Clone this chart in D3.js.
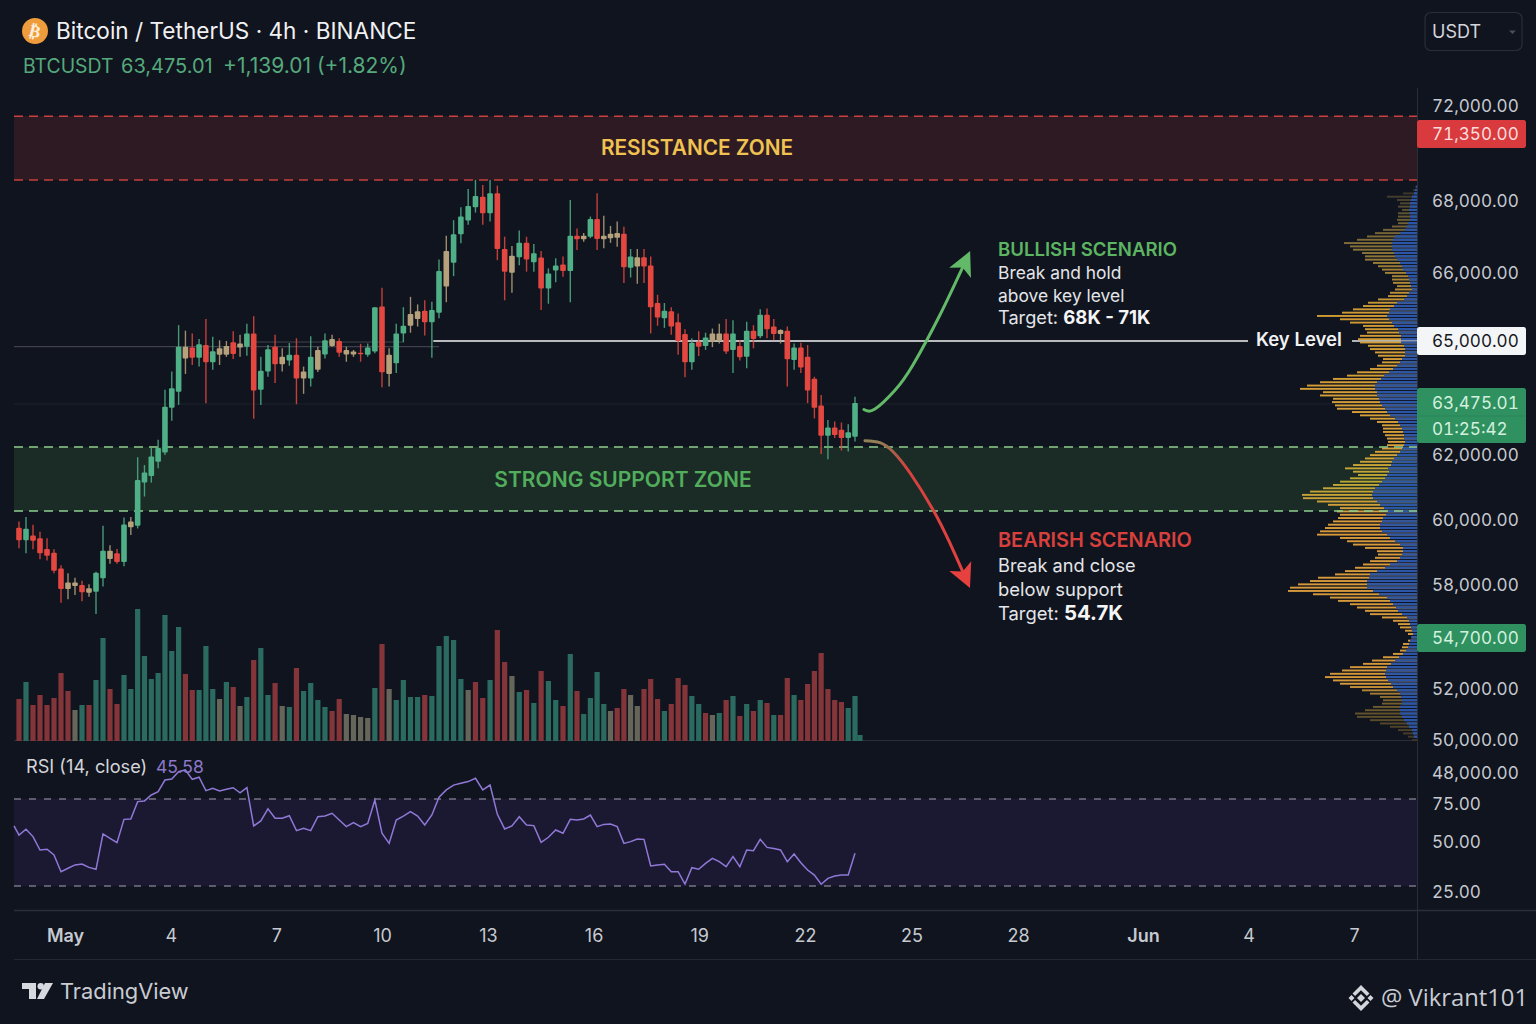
<!DOCTYPE html>
<html>
<head>
<meta charset="utf-8">
<script src="https://cdn.jsdelivr.net/npm/d3@7/dist/d3.min.js"></script>
<style>
  html, body { margin: 0; background: #10141e; }
  svg { display: block; font-family: Inter, "Noto Sans", sans-serif; }
  .axis path, .axis line { display: none; }
  .axis text { fill: #c6c9d0; font-family: Inter, sans-serif; }
  .num { font-variant-numeric: tabular-nums; }
</style>
</head>
<body>
<div id="chart"></div>
<script>
// ------- Candles (4h bars) -------
const candleOpen = [
  59730,59350,59490,59410,59080,58960,58480,58050,58050,57940,57740,57530,58180,59020,58950,58680,59750,59790,61120,61320,
  61760,62040,63340,63750,64570,64840,64590,64900,64480,64660,64660,64970,64840,64860,65110,63800,64250,64860,64430,64520,
  64660,64080,64080,64290,64670,64880,65000,64780,64740,64710,64660,64740,65500,64190,64450,65110,65220,65320,65440,65270,
  65410,65790,66260,67050,67430,67800,68170,67630,68340,66640,66450,66410,66810,66270,66400,65760,66040,66210,66030,67010,
  66910,66980,67470,66910,66940,67080,67060,66120,66410,66410,66180,65550,65330,65430,65270,65100,64480,64980,64880,65110,
  65110,65110,64780,64880,64610,65150,65070,65380,65210,65160,65150,64530,64840,64610,64070,63400,62530,62770,62700,62460,
  62500];
const candleHigh = [
  59920,60060,59820,59610,59410,59070,58580,58330,58190,58100,57980,58380,59790,59190,59080,60050,60060,61900,61660,62190,
  62410,63800,64250,65230,65150,65110,65030,65320,65060,65010,65000,65140,65090,65250,65360,64610,64900,65090,64820,64950,
  65040,64370,65070,64860,65110,65090,65040,64860,64780,64930,64940,65490,65770,64820,65250,65490,65640,65530,65590,65570,
  66350,67010,67440,67800,68560,69020,68760,69020,68730,66980,66720,67150,66980,66780,66580,66100,66380,66430,68000,67210,
  67080,67540,68340,67560,67280,67400,67260,66640,66640,66640,66430,65670,65550,65490,65400,65170,65040,65140,65120,65180,
  65250,65320,65300,65010,65280,65230,65460,65470,65320,65170,65210,64940,64960,64900,64120,63670,62980,62940,62910,62860,
  63630];
const candleLow = [
  59100,58950,59070,58760,58720,58330,56860,57070,57330,56940,57220,56170,57840,58620,58620,58550,59510,59710,60690,61120,
  61560,61970,62960,63420,64190,64410,64370,63470,64290,64410,64610,64560,64610,64640,63020,63420,64120,63970,64250,64390,
  63440,63700,63880,64240,64570,64860,64610,64490,64610,64490,64610,64700,63860,63880,64210,64970,65120,65210,65080,64590,
  65330,65560,65940,66800,67310,67650,67310,67400,66330,65590,65700,66190,66010,66010,65450,65540,65850,65930,65560,66610,
  66840,66940,66610,66660,66810,66700,65840,65920,65830,65840,65110,65220,65190,65090,64660,64110,64290,64630,64780,64850,
  64940,64680,64210,64520,64330,64820,65040,65040,65010,64940,63880,64290,64210,63470,63030,62000,61840,62460,62100,62070,
  62360];
const candleClose = [
  59350,59700,59330,58950,58870,58410,57700,57700,57880,57490,57470,58350,59020,58770,58680,59830,59920,61200,61430,61920,
  62170,63370,63840,64860,64860,64590,64920,64480,64750,64820,64880,64680,64940,65110,63780,64270,64800,64430,64610,64660,
  64080,64250,64610,64780,65010,65030,64710,64670,64670,64680,64840,65490,64230,64660,65110,65220,65390,65430,65270,65450,
  66030,66580,67050,67540,67830,68200,67630,68340,66640,66010,65990,66810,66350,66520,65760,65980,66180,66030,67010,66910,
  67010,67470,66920,67010,67060,66950,66130,66430,66150,66150,65490,65340,65440,65210,65000,64480,64960,64860,65050,64980,
  65000,64740,65110,64600,65150,65030,65380,65170,65100,65100,64550,64840,64350,63780,63340,62530,62770,62550,62460,62630,
  63475];
// bars that read as washed-out tan in the picture
const mutedCandles = [7,8,10,13,16,24,29,30,32,38,41,43,45,47,48,53,56,57,61,70,80,83,84,85,88,99,100,109];

// ------- Volume -------
const volumeValues = [
  4.2,5.9,3.6,4.6,3.6,4.3,6.8,5.0,3.1,3.6,3.6,6.1,10.3,5.2,3.7,6.6,5.2,13.2,8.5,6.2,
  6.8,12.6,9.0,11.4,6.7,5.1,5.1,9.5,5.2,4.2,5.9,5.4,3.5,4.4,8.1,9.3,4.6,5.8,3.5,3.4,
  7.3,5.0,5.8,4.1,3.4,3.0,4.2,2.7,2.6,2.4,2.3,5.3,9.7,5.2,4.1,6.1,4.4,4.4,4.6,4.5,
  9.5,10.5,10.1,6.2,5.1,5.9,4.3,6.1,11.1,7.9,6.5,4.9,5.1,3.8,7.0,6.0,4.1,3.5,8.7,5.0,
  2.7,4.3,6.9,3.7,3.0,3.3,5.2,4.6,3.5,5.2,6.2,4.2,3.0,3.7,6.3,5.6,4.5,3.7,2.8,2.6,
  2.8,4.1,4.5,2.5,3.7,3.0,4.1,3.8,2.6,2.6,6.3,4.6,4.1,5.7,7.0,8.8,5.2,4.1,3.9,3.3,
  4.5,0.6];
const volumeSides = ("rgrrrrrrtg" + "rggrrggggg" + "ggggrrgggt" + "grtgrggrtg" + "rggggrrttt" +
  "tgrtggggrg" + "ggggtrrgrr" + "tgrgrggrgr" + "ggggtrrttr" + "rrgrrrggrt" +
  "grgrgrgrgr" + "rgrrrrrrrg" + "gg").split("");

// ------- RSI (first value sits one bar before the first candle) -------
const rsiValues = [
  59.5,54.3,57.6,53.4,45.7,46.1,42.8,33.2,35.2,37.1,37.6,35.7,34.6,54.9,52.4,49.9,63.3,63.5,73.5,73.9,
  77.3,79.2,85.9,86.5,90.7,91.7,86.3,87.5,79.8,81.1,79.6,80.6,81.5,78.6,81.5,59.5,62.4,69.3,63.9,63.9,
  65.4,56.8,58.1,56.8,64.8,65.2,66.8,62.9,59.1,61.4,59.1,61.0,74.4,55.3,49.5,62.9,65.2,67.7,65.2,
  60.1,65.8,76.0,80.2,83.0,84.0,85.0,86.9,80.2,83.0,66.2,57.8,59.5,64.8,60.1,59.7,50.1,53.0,57.2,55.3,
  63.3,62.9,63.5,65.8,59.1,60.4,60.6,59.1,49.5,50.5,52.0,51.8,36.5,37.1,37.5,33.2,33.2,26.1,35.5,34.6,
  38.0,40.9,39.0,36.1,41.9,36.1,45.7,45.3,51.8,47.2,46.6,45.7,39.0,43.4,38.4,34.2,31.3,26.0,29.4,30.7,
  31.3,31.3,43.8];

// ------- Volume profile on the right edge (one row per level, top to bottom) -------
const profileTotal = [
  2,4,14,30,20,17,19,15,19,19,20,19,25,34,42,50,60,73,67,64,55,52,52,44,39,35,32,25,25,24,20,22,27,29,39,49,54,64,75,100,
  77,67,54,52,50,57,59,57,49,47,42,39,34,35,40,47,60,70,84,97,110,117,94,97,84,85,82,80,65,57,47,40,35,34,
  34,32,30,29,30,35,42,47,52,57,64,72,64,59,67,77,84,94,107,115,114,100,89,77,80,77,79,84,89,92,97,100,77,70,64,52,40,39,42,47,54,
  62,72,82,99,107,119,127,129,104,87,79,67,60,52,47,35,24,19,17,12,9,5,9,14,15,17,24,34,45,54,67,75,87,92,84,77,67,55,47,37,34,35,44,52,62,60,47,37,27,19,14,9,5];
const profileBase = [
  1,2,3,5,6,7,7,8,7,7,7,9,10,12,17,22,24,25,25,25,23,22,20,17,15,14,11,9,8,7,6,5,8,10,13,20,23,27,28,30,
  28,25,23,19,18,16,16,16,13,12,12,12,15,17,20,24,28,33,36,40,42,42,40,40,38,37,35,32,30,27,22,19,17,15,
  14,13,13,12,13,15,17,20,23,25,26,29,28,30,32,35,38,42,44,45,44,40,37,33,30,31,34,35,37,37,35,30,27,22,17,14,14,15,17,20,27,
  32,40,47,48,50,50,50,44,38,30,27,24,21,19,15,10,8,7,6,5,4,6,7,8,9,11,14,18,22,26,30,31,32,31,29,26,24,20,17,16,15,15,17,17,17,15,13,10,8,5,4,3];

// ------- Axis labels and levels -------
const priceTicks = [72000, 68000, 66000, 62000, 60000, 58000, 52000, 50000, 48000];
const rsiTicks = [75, 50, 25];
const dayTicks = [1, 4, 7, 10, 13, 16, 19, 22, 25, 28, 32, 35, 38];
const dayLabels = ["May", "4", "7", "10", "13", "16", "19", "22", "25", "28", "Jun", "4", "7"];
const boldDays = ["May", "Jun"];

const resistanceZone = [69015, 71750];
const supportZone = [60246, 62200];
const keyLevel = 65000;
const lastPrice = 63475.01;
const targetLow = 54700;
const targetHigh = 71350;

// arrow paths as [day, price]
const bullishPath = [[23.66,63287],[23.97,63302],[24.54,63795],[25.04,64410],[25.80,65377],[26.51,66278]];
const bearishPath = [[23.69,62385],[24.11,62327],[24.48,62066],[24.96,61415],[25.61,60277],[26.08,59262],[26.51,58215]];

// ------- Colors -------
const upColor = "#4fb087";
const downColor = "#e4473f";
const mutedColor = "#b5a27c";
const volumeColor = { g: "#2b6a5f", r: "#843539", t: "#66655a" };

// ------- SVG setup -------
const W = 1536, H = 1024;
const plotLeft = 14, plotRight = 1417, tagRight = 1526;
const axisFont = 17.1;

const svg = d3.select("#chart").append("svg").attr("width", W).attr("height", H);
svg.append("rect").attr("width", W).attr("height", H).attr("fill", "#10141e");

const defs = svg.append("defs");

const amberFade = defs.append("linearGradient").attr("id", "amberFade")
  .attr("gradientUnits", "userSpaceOnUse").attr("x1", 0).attr("x2", 0).attr("y1", 186).attr("y2", 740);
[[0, "#2e2d28"], [0.06, "#6b5d35"], [0.12, "#8a7438"], [0.22, "#cf9a34"], [0.48, "#d8a038"], [0.53, "#b9a836"],
 [0.59, "#d89a3a"], [0.9, "#d4983a"], [0.93, "#75602f"], [1, "#3d3525"]].forEach(([o, c]) =>
  amberFade.append("stop").attr("offset", o).attr("stop-color", c));

const bearFade = defs.append("linearGradient").attr("id", "bearFade")
  .attr("x1", 0).attr("x2", 0).attr("y1", 0).attr("y2", 1);
[[0, "#8f8256"], [0.08, "#a8604a"], [0.2, "#d8423e"], [1, "#e2413f"]].forEach(([o, c]) =>
  bearFade.append("stop").attr("offset", o).attr("stop-color", c));

function arrowMarker(id, color) {
  defs.append("marker").attr("id", id).attr("markerUnits", "userSpaceOnUse")
    .attr("viewBox", "-2 -15 34 30").attr("markerWidth", 34).attr("markerHeight", 30)
    .attr("refX", 12).attr("refY", 0).attr("orient", "auto")
    .append("path").attr("d", "M0,-12L24,0L0,12L6,0Z").attr("fill", color);
}
arrowMarker("headUp", "#62b968");
arrowMarker("headDown", "#e6403f");

// ------- Scales -------
// the printed price axis is not evenly spaced, so the scale follows the printed levels
const priceY = d3.scaleLinear()
  .domain([72000, 71350, 68000, 66000, 65000, 63475, 62000, 60000, 58000, 54700, 52000, 50000, 48000])
  .range([105, 134, 200, 272, 341, 403, 454, 519, 584, 638, 688, 739, 772]);

const barX = d3.scaleLinear()
  .domain([-1, 0, 15, 34, 60, 78, 90, 104, 120, 121])
  .range([14, 19, 124, 253.7, 439, 570.3, 650.7, 746.7, 855, 860]);

const dayX = d3.scaleLinear().domain([1, 22, 28, 32, 38]).range([65, 805, 1018, 1143, 1354]);

const volumeY = d3.scaleLinear().domain([0, 14]).range([741, 601]);

const rsiY = d3.scaleLinear().domain([75, 25]).range([799, 886]);
const rsiLabelY = d3.scaleLinear().domain([75, 50, 25]).range([803, 841, 891]);

const profileY = d3.scaleLinear().domain([0, profileTotal.length - 1]).range([186.7, 740]);
const profileX = d3.scaleLinear().domain([0, 140]).range([plotRight, plotRight - 140]);

// ------- Zones, panes -------
const panes = svg.append("g");

function zone(range, fill) {
  panes.append("rect")
    .attr("x", plotLeft).attr("width", plotRight - plotLeft)
    .attr("y", priceY(range[1])).attr("height", priceY(range[0]) - priceY(range[1]))
    .attr("fill", fill);
}
zone(resistanceZone, "#2e1a22");
zone(supportZone, "#1a2c25");

panes.append("rect")
  .attr("x", plotLeft).attr("width", plotRight - plotLeft)
  .attr("y", rsiY(75)).attr("height", rsiY(25) - rsiY(75))
  .attr("fill", "#1b1932");

function hLine(parent, x1, x2, y, color, width, dash) {
  return parent.append("line").attr("x1", x1).attr("x2", x2).attr("y1", y).attr("y2", y)
    .attr("stroke", color).attr("stroke-width", width).attr("stroke-dasharray", dash || null);
}

// pane separators
hLine(panes, plotLeft, plotRight, 740.5, "#2a2e39", 1);
hLine(panes, plotLeft, W, 910.5, "#2a2e39", 1.5);
hLine(panes, plotLeft, W, 959.5, "#232732", 1);
panes.append("line").attr("x1", plotRight + 0.5).attr("x2", plotRight + 0.5).attr("y1", 88).attr("y2", 959)
  .attr("stroke", "#2a2e39");

// faint last-price and old level lines
hLine(panes, plotLeft, plotRight, priceY(lastPrice) + 1, "#1d212b", 1);
hLine(panes, plotLeft, barX(60), 346.7, "#4a4d55", 1);
hLine(panes, barX(34), barX(55), 342, "#3f424a", 1);

// key level
hLine(panes, barX(59.2), 1248, priceY(keyLevel), "#f1f2f4", 1.6);
hLine(panes, 1352, plotRight, priceY(keyLevel), "#e8e9ec", 1.6);

// ------- Volume -------
const barWidth = 5.6;
svg.append("g").selectAll("rect").data(volumeValues).join("rect")
  .attr("x", (d, i) => barX(i) - 2.6)
  .attr("width", 5.2)
  .attr("y", (d) => volumeY(d))
  .attr("height", (d) => volumeY(0) - volumeY(d))
  .attr("fill", (d, i) => volumeColor[volumeSides[i]]);

// ------- Volume profile -------
const profile = svg.append("g");
profile.selectAll("rect.amber").data(profileTotal).join("rect").attr("class", "amber")
  .attr("x", (d) => profileX(d))
  .attr("width", (d) => plotRight - profileX(d))
  .attr("y", (d, i) => profileY(i) - 0.9)
  .attr("height", 1.9)
  .attr("fill", "url(#amberFade)");
profile.selectAll("rect.blue").data(profileBase).join("rect").attr("class", "blue")
  .attr("x", (d) => profileX(d))
  .attr("width", (d) => plotRight - profileX(d))
  .attr("y", (d, i) => profileY(i) - 1.15)
  .attr("height", 2.3)
  .attr("fill", "#2b56a8");

// ------- Zone borders go over the profile -------
const borders = svg.append("g");
resistanceZone.forEach((p) => hLine(borders, plotLeft, plotRight, priceY(p), "#c8403f", 1.5, "9,6"));
supportZone.forEach((p) => hLine(borders, plotLeft, plotRight, priceY(p), "#8fd08f", 1.5, "9,6"));
rsiTicks.filter((t) => t !== 50).forEach((t) => hLine(borders, plotLeft, plotRight, rsiY(t), "#a5a2b4", 1.2, "7,8"));

// ------- Candles -------
const candleColor = (i) => mutedCandles.includes(i) ? mutedColor
  : candleClose[i] >= candleOpen[i] ? upColor : downColor;

const candles = svg.append("g").style("filter", "blur(0.3px)");
candles.selectAll("line").data(candleOpen).join("line")
  .attr("x1", (d, i) => barX(i)).attr("x2", (d, i) => barX(i))
  .attr("y1", (d, i) => priceY(candleHigh[i]))
  .attr("y2", (d, i) => priceY(candleLow[i]))
  .attr("stroke", (d, i) => candleColor(i))
  .attr("stroke-opacity", 0.85)
  .attr("stroke-width", 1.4);
candles.selectAll("rect").data(candleOpen).join("rect")
  .attr("x", (d, i) => barX(i) - barWidth / 2)
  .attr("width", barWidth)
  .attr("y", (d, i) => priceY(Math.max(candleOpen[i], candleClose[i])))
  .attr("height", (d, i) => Math.max(1.5, priceY(Math.min(candleOpen[i], candleClose[i])) - priceY(Math.max(candleOpen[i], candleClose[i]))))
  .attr("rx", 1)
  .attr("fill", (d, i) => candleColor(i));

// ------- RSI -------
const rsiLine = d3.line().x((d, i) => barX(i - 1)).y((d) => rsiY(d));
svg.append("path").datum(rsiValues)
  .attr("d", rsiLine)
  .attr("fill", "none")
  .attr("stroke", "#8f78d6")
  .attr("stroke-width", 1.5);

// ------- Scenario arrows -------
const arrowLine = d3.line().x((d) => dayX(d[0])).y((d) => priceY(d[1])).curve(d3.curveNatural);
svg.append("path").datum(bullishPath).attr("d", arrowLine)
  .attr("fill", "none").attr("stroke", "#62b968").attr("stroke-width", 3)
  .attr("stroke-linecap", "round").attr("marker-end", "url(#headUp)");
svg.append("path").datum(bearishPath).attr("d", arrowLine)
  .attr("fill", "none").attr("stroke", "url(#bearFade)").attr("stroke-width", 3)
  .attr("stroke-linecap", "round").attr("marker-end", "url(#headDown)");

// ------- Axes -------
const priceAxis = d3.axisRight(priceY).tickValues(priceTicks).tickSize(0).tickPadding(0)
  .tickFormat(d3.format(",.2f"));
svg.append("g").attr("class", "axis num").attr("transform", "translate(1432,0.6)").call(priceAxis)
  .selectAll("text").attr("font-size", axisFont);

const rsiAxis = d3.axisRight(rsiLabelY).tickValues(rsiTicks).tickSize(0).tickPadding(0)
  .tickFormat(d3.format(".2f"));
svg.append("g").attr("class", "axis num").attr("transform", "translate(1432,0.6)").call(rsiAxis)
  .selectAll("text").attr("font-size", axisFont);

const timeAxis = d3.axisBottom(dayX).tickValues(dayTicks).tickSize(0).tickPadding(0)
  .tickFormat((d, i) => dayLabels[i]);
svg.append("g").attr("class", "axis").attr("transform", "translate(0,929.5)").call(timeAxis)
  .selectAll("text").attr("font-size", 18)
  .attr("font-weight", (d, i) => boldDays.includes(dayLabels[i]) ? 600 : 400)
  .attr("fill", (d, i) => boldDays.includes(dayLabels[i]) ? "#e4e6ea" : "#c6c9d0");

// ------- Price tags -------
function priceTag(y, h, bg, fg, label) {
  svg.append("rect").attr("x", plotRight).attr("y", y).attr("width", tagRight - plotRight).attr("height", h)
    .attr("rx", 2.5).attr("fill", bg);
  svg.append("text").attr("class", "num").attr("x", 1432).attr("y", y + h / 2).attr("dy", "0.35em")
    .attr("font-size", axisFont).attr("fill", fg).text(label);
}
priceTag(priceY(targetHigh) - 14, 28, "#d83a3d", "#fbdcdc", d3.format(",.2f")(targetHigh));
priceTag(priceY(keyLevel) - 14, 28, "#f4f5f6", "#15181f", d3.format(",.2f")(keyLevel));
svg.append("rect").attr("x", plotRight).attr("y", 388).attr("width", tagRight - plotRight).attr("height", 55)
  .attr("rx", 2.5).attr("fill", "#2f9160");
hLine(svg, plotRight, tagRight, 416, "#2b8558", 1);
svg.append("text").attr("class", "num").attr("x", 1432).attr("y", 403).attr("dy", "0.35em").attr("font-size", axisFont)
  .attr("fill", "#d3f0df").text(d3.format(",.2f")(lastPrice));
svg.append("text").attr("class", "num").attr("x", 1432).attr("y", 429).attr("dy", "0.35em").attr("font-size", axisFont)
  .attr("fill", "#d3f0df").text("01:25:42");
priceTag(priceY(targetLow) - 14, 28, "#2f9160", "#d3f0df", d3.format(",.2f")(targetLow));

// ------- Chart annotations -------
function label(x, y, text, size, color, weight, anchor) {
  return svg.append("text").attr("x", x).attr("y", y).attr("dy", "0.35em")
    .attr("font-size", size).attr("fill", color).attr("font-weight", weight || 400)
    .attr("text-anchor", anchor || "start").text(text);
}

label(697, 148, "RESISTANCE ZONE", 20.8, "#efc252", 600, "middle");
label(623, 480, "STRONG SUPPORT ZONE", 21, "#52ad5d", 600, "middle");
label(1256, 340, "Key Level", 18.5, "#f1f2f4", 600);

label(998, 249, "BULLISH SCENARIO", 18.6, "#5cb562", 600);
label(998, 273, "Break and hold", 17.4, "#e3e5e9");
label(998, 296, "above key level", 17.4, "#e3e5e9");
const bullTarget = label(998, 318, "Target: ", 18.2, "#e3e5e9");
bullTarget.append("tspan").attr("font-weight", 700).attr("font-size", 18.6).attr("fill", "#f4f5f7").text("68K - 71K");

label(998, 540, "BEARISH SCENARIO", 19.9, "#d8403d", 600);
label(998, 566, "Break and close", 18.2, "#e3e5e9");
label(998, 590, "below support", 18.4, "#e3e5e9");
const bearTarget = label(998, 614, "Target: ", 18.4, "#e3e5e9");
bearTarget.append("tspan").attr("font-weight", 700).attr("font-size", 20.4).attr("fill", "#f4f5f7").text("54.7K");

// ------- Header -------
svg.append("circle").attr("cx", 35).attr("cy", 31).attr("r", 13).attr("fill", "#ee9c3c");
svg.append("text").attr("x", 35).attr("y", 31).attr("dy", "0.35em").attr("text-anchor", "middle")
  .attr("font-size", 17).attr("font-weight", 700).attr("font-family", "DejaVu Sans")
  .attr("fill", "#fdeedd").attr("transform", "rotate(14 35 31)").text("₿");

label(56, 31, "Bitcoin / TetherUS · 4h · BINANCE", 22.6, "#f0f1f3");
label(23, 66, "BTCUSDT", 19.4, "#55a97c");
label(121, 66, "63,475.01", 20, "#55a97c");
label(223, 66, "+1,139.01 (+1.82%)", 21, "#55a97c");

svg.append("rect").attr("x", 1425).attr("y", 12.5).attr("width", 97).attr("height", 38).attr("rx", 6)
  .attr("fill", "none").attr("stroke", "#2a2e39").attr("stroke-width", 1.2);
label(1432, 32, "USDT", 18, "#d3d5da");
svg.append("path").attr("d", "M1509,30.5h7l-3.5,3.5z").attr("fill", "#4a4e59");

label(26, 767, "RSI (14, close)", 18.2, "#d3d5da");
label(156, 767, "45.58", 17.5, "#8c78c8");

// ------- Footer logos -------
svg.append("path").attr("fill", "#d6d9de")
  .attr("d", "M22,983h14v16h-7v-10h-7zM45,983h8l-9,16h-7z");
svg.append("circle").attr("cx", 40.7).attr("cy", 986.3).attr("r", 3.2).attr("fill", "#d6d9de");
label(60, 991, "TradingView", 21.8, "#c9ccd3");

const binance = svg.append("g").attr("fill", "#d2d5da");
binance.append("path").attr("d",
  "M1361,985l8.5,8.5-2.6,2.6-5.9-5.9-5.9,5.9-2.6-2.6z" +
  "M1361,1011l8.5-8.5-2.6-2.6-5.9,5.9-5.9-5.9-2.6,2.6z" +
  "M1361,994l4,4-4,4-4-4z" +
  "M1351.5,995l3,3-3,3-3-3z" +
  "M1370.5,995l3,3-3,3-3-3z");
svg.append("text").attr("x", 1381).attr("y", 998).attr("dy", "0.35em").attr("font-size", 23.8)
  .attr("font-family", "'Open Sans', 'Noto Sans', sans-serif").attr("fill", "#c8cbd2").text("@ Vikrant101");
</script>
</body>
</html>
